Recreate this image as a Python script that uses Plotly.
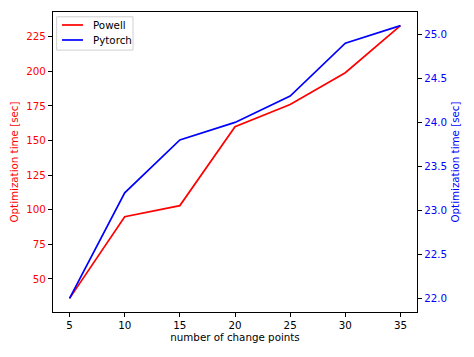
import plotly.graph_objects as go

change_points = [5, 10, 15, 20, 25, 30, 35]
powell_time = [36, 95, 103, 160, 176, 199, 233]
pytorch_time = [22.0, 23.2, 23.8, 24.0, 24.3, 24.9, 25.1]

x_ticks = [5, 10, 15, 20, 25, 30, 35]
y1_ticks = [50, 75, 100, 125, 150, 175, 200, 225]
y2_ticks = [22.0, 22.5, 23.0, 23.5, 24.0, 24.5, 25.0]

series_names = ["Powell", "Pytorch"]
series_colors = ["#ff0000", "#0000ff"]

font_family = "DejaVu Sans"
fs = 10.3

fig = go.Figure()
fig.add_trace(go.Scatter(x=change_points, y=powell_time, mode="lines", name=series_names[0],
                         line=dict(color=series_colors[0], width=1.7), yaxis="y"))
fig.add_trace(go.Scatter(x=change_points, y=pytorch_time, mode="lines", name=series_names[1],
                         line=dict(color=series_colors[1], width=1.7), yaxis="y2"))

# manual matplotlib-like legend (compact)
shapes = [dict(type="rect", xref="paper", yref="paper", x0=0.010, x1=0.2198, y0=0.873, y1=0.984,
               line=dict(color="#d0d0d0", width=1), fillcolor="rgba(255,255,255,0.8)", layer="above")]
annotations = []
row_y = [0.9567, 0.9067]
for name, color, yy in zip(series_names, series_colors, row_y):
    shapes.append(dict(type="line", xref="paper", yref="paper", x0=0.0247, x1=0.0824, y0=yy, y1=yy,
                       line=dict(color=color, width=1.7), layer="above"))
    annotations.append(dict(xref="paper", yref="paper", x=0.1044, y=yy, xanchor="left", yanchor="middle",
                            text=name, showarrow=False, font=dict(size=fs, color="black")))

fig.update_layout(
    width=474, height=357,
    margin=dict(l=53, r=57, t=12, b=45),
    paper_bgcolor="white", plot_bgcolor="white",
    font=dict(family=font_family, size=fs, color="black"),
    showlegend=False,
    shapes=shapes, annotations=annotations,
    xaxis=dict(range=[3.5, 36.5], tickvals=x_ticks, ticktext=[str(v) for v in x_ticks],
               showline=True, linecolor="black", linewidth=1.2, mirror=True,
               ticks="outside", ticklen=4, tickcolor="black", showgrid=False, zeroline=False,
               tickfont=dict(size=fs),
               title=dict(text="number of change points", font=dict(size=fs), standoff=3)),
    yaxis=dict(range=[26.15, 242.85], tickvals=y1_ticks, ticktext=[str(v) for v in y1_ticks],
               showline=True, linecolor="black", linewidth=1.2,
               ticks="outside", ticklen=4, tickcolor="black", showgrid=False, zeroline=False,
               tickfont=dict(color="#ff0000", size=fs),
               title=dict(text="Optimization time [sec]", font=dict(color="#ff0000", size=fs), standoff=5)),
    yaxis2=dict(range=[21.845, 25.255], tickvals=y2_ticks, ticktext=[f"{v:.1f}" for v in y2_ticks],
                overlaying="y", side="right",
                showline=True, linecolor="black", linewidth=1.2,
                ticks="outside", ticklen=4, tickcolor="black", showgrid=False, zeroline=False,
                tickfont=dict(color="#0000ff", size=fs),
                title=dict(text="Optimization time [sec]", font=dict(color="#0000ff", size=fs), standoff=5)),
)

fig.write_html("out.html")
